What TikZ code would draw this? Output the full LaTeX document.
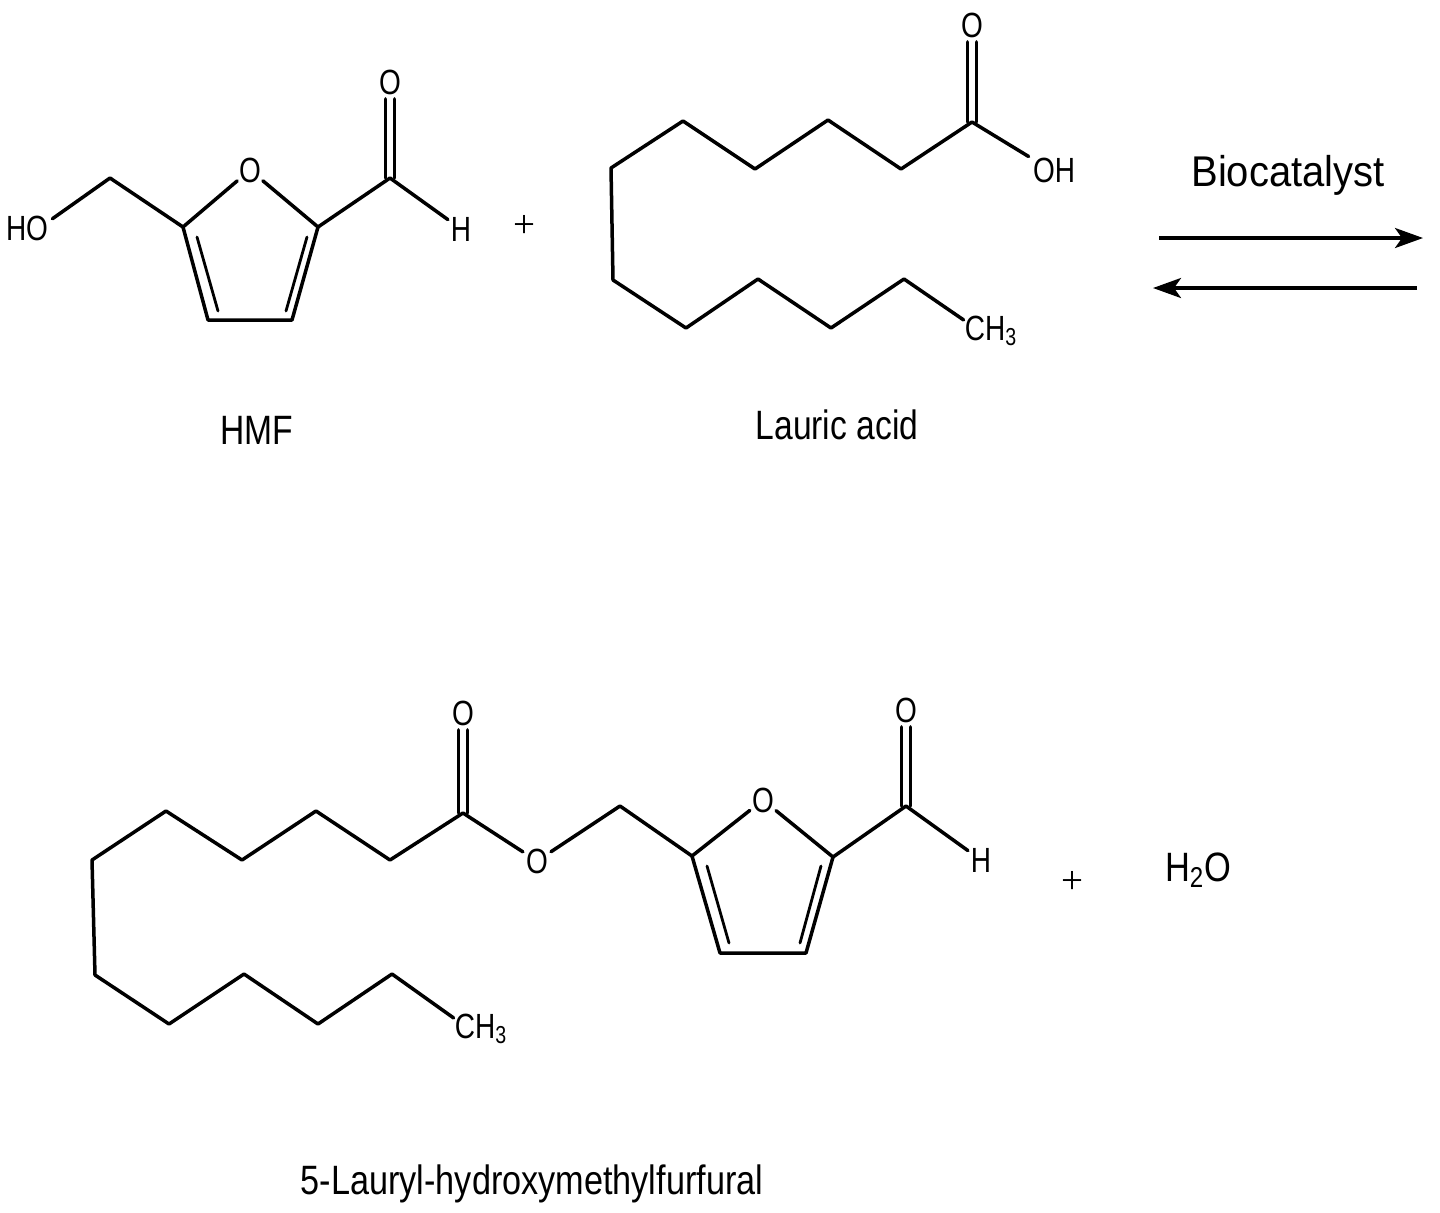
\documentclass[tikz,border=0pt]{standalone}
\usepackage{fontspec}
\usepackage{graphicx}
\setmainfont{Liberation Sans}
\newfontfamily\plusfont{Liberation Serif}
\usetikzlibrary{arrows.meta}
\newcommand{\atomtxt}[1]{\scalebox{.8}[1]{\fontsize{17.5}{20}\selectfont #1}}
\newcommand{\captxt}[2]{\scalebox{#1}[1]{\fontsize{20.5}{24}\selectfont #2}}
\newcommand{\biotxt}[1]{\scalebox{.93}[1]{\fontsize{21.5}{25}\selectfont #1}}
\tikzset{
  bond/.style={line width=1.75pt,line cap=round,line join=round},
  inner/.style={line width=1.4pt,line cap=round},
  react/.style={line width=1.75pt,-{Stealth[length=14pt,width=10pt,inset=3.5pt]}},
  atom/.style={circle,minimum size=15pt,inner sep=0pt},
  wide/.style={rectangle,minimum width=25pt,minimum height=15pt,inner sep=0pt},
  chain/.style={rectangle,minimum width=27pt,minimum height=15pt,inner sep=0pt},
  caption/.style={inner sep=0pt},
  plus/.style={inner sep=0pt,font=\plusfont\fontsize{19.5}{22}\selectfont}
}
\begin{document}
\begin{tikzpicture}[x=0.5pt,y=-0.5pt]
\useasboundingbox (0,0) rectangle (1440,1212);
% ---------- HMF
\node[wide] (hHO) at (27,228) {\atomtxt{HO}};
\coordinate (hCH2) at (110,178);
\coordinate (hC5) at (183,227);
\node[atom] (hO) at (250,170) {\atomtxt{O}};
\coordinate (hC2) at (318,227);
\coordinate (hC3) at (292,320);
\coordinate (hC4) at (208,320);
\coordinate (hCa) at (390,178);
\node[atom] (hOa) at (390,82) {\atomtxt{O}};
\node[atom] (hH) at (461,229) {\atomtxt{H}};
\coordinate (hi1) at (197,237);
\coordinate (hi2) at (218,311);
\coordinate (hi3) at (307,237);
\coordinate (hi4) at (286,311);
\draw[bond] (hHO.20) -- (hCH2) -- (hC5);
\draw[bond] (hC5) -- (hO) (hO) -- (hC2);
\draw[bond] (hC2) -- (hC3) -- (hC4) -- (hC5);
\draw[inner] (hi1) -- (hi2) (hi3) -- (hi4);
\draw[bond] (hC2) -- (hCa) -- (hH);
\draw[bond] ([xshift=-2.25pt]hCa.center) -- ([xshift=-2.25pt]hOa.south);
\draw[bond] ([xshift=2.25pt]hCa.center) -- ([xshift=2.25pt]hOa.south);
\node[plus] (p1) at (524,226) {+};
\node[caption] (lHMF) at (257,430) {\captxt{.82}{HMF}};
% ---------- Lauric acid
\node[atom] (lO) at (972,25) {\atomtxt{O}};
\coordinate (lC1) at (972,122);
\node[wide] (lOH) at (1054,170) {\atomtxt{OH}};
\coordinate (lC2) at (901,169);
\coordinate (lC3) at (828,120);
\coordinate (lC4) at (755,169);
\coordinate (lC5) at (683,121);
\coordinate (lC6) at (611,168);
\coordinate (lC7) at (613,280);
\coordinate (lC8) at (686,328);
\coordinate (lC9) at (758,279);
\coordinate (lC10) at (831,328);
\coordinate (lC11) at (904,279);
\node[chain] (lCH3) at (991,331) {\atomtxt{CH\textsubscript{3}}};
\draw[bond] (lOH.152) -- (lC1) -- (lC2) -- (lC3) -- (lC4) -- (lC5) -- (lC6) -- (lC7) -- (lC8) -- (lC9) -- (lC10) -- (lC11) -- (lCH3.158);
\draw[bond] ([xshift=-2.25pt]lC1.center) -- ([xshift=-2.25pt]lO.south);
\draw[bond] ([xshift=2.25pt]lC1.center) -- ([xshift=2.25pt]lO.south);
\node[caption] (lLA) at (837,425) {\captxt{.82}{Lauric acid}};
% ---------- Arrows
\node[caption] (lBio) at (1288,175) {\biotxt{Biocatalyst}};
\coordinate (a1) at (1159,238);
\coordinate (a2) at (1423,238);
\coordinate (a3) at (1417,288);
\coordinate (a4) at (1153,288);
\draw[react] (a1) -- (a2);
\draw[react] (a3) -- (a4);
% ---------- Product
\node[atom] (pOc) at (463,713) {\atomtxt{O}};
\coordinate (pC1) at (463,813);
\coordinate (pC2) at (390,860);
\coordinate (pC3) at (316,811);
\coordinate (pC4) at (242,860);
\coordinate (pC5) at (166,811);
\coordinate (pC6) at (92,860);
\coordinate (pC7) at (95,975);
\coordinate (pC8) at (169,1024);
\coordinate (pC9) at (244,974);
\coordinate (pC10) at (318,1024);
\coordinate (pC11) at (392,974);
\node[chain] (pCH3) at (481,1029) {\atomtxt{CH\textsubscript{3}}};
\node[atom] (pOe) at (537,861) {\atomtxt{O}};
\coordinate (pCH2) at (620,806);
\coordinate (pR5) at (692,856);
\node[atom] (pO) at (763,800) {\atomtxt{O}};
\coordinate (pR2) at (833,857);
\coordinate (pR3) at (806,953);
\coordinate (pR4) at (720,953);
\coordinate (pCa) at (906,806);
\node[atom] (pOa) at (906,710) {\atomtxt{O}};
\node[atom] (pH) at (981,860) {\atomtxt{H}};
\coordinate (pi1) at (707,866);
\coordinate (pi2) at (729,943);
\coordinate (pi3) at (821,866);
\coordinate (pi4) at (800,943);
\draw[bond] (pCH3.158) -- (pC11) -- (pC10) -- (pC9) -- (pC8) -- (pC7) -- (pC6) -- (pC5) -- (pC4) -- (pC3) -- (pC2) -- (pC1) -- (pOe);
\draw[bond] ([xshift=-2.25pt]pC1.center) -- ([xshift=-2.25pt]pOc.south);
\draw[bond] ([xshift=2.25pt]pC1.center) -- ([xshift=2.25pt]pOc.south);
\draw[bond] (pOe) -- (pCH2) -- (pR5);
\draw[bond] (pR5) -- (pO) (pO) -- (pR2);
\draw[bond] (pR2) -- (pR3) -- (pR4) -- (pR5);
\draw[inner] (pi1) -- (pi2) (pi3) -- (pi4);
\draw[bond] (pR2) -- (pCa) -- (pH);
\draw[bond] ([xshift=-2.25pt]pCa.center) -- ([xshift=-2.25pt]pOa.south);
\draw[bond] ([xshift=2.25pt]pCa.center) -- ([xshift=2.25pt]pOa.south);
\node[plus] (p2) at (1072,882) {+};
\node[caption] (lH2O) at (1198,870) {\captxt{.84}{H\textsubscript{2}O}};
\node[caption] (lProd) at (532,1184) {\captxt{.835}{5-Lauryl-hydroxymethylfurfural}};
\end{tikzpicture}
\end{document}
